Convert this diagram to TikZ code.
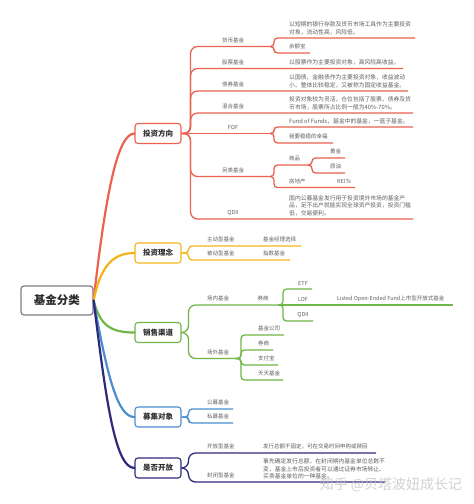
\documentclass[tikz,border=0pt]{standalone}
\usepackage{fontspec}
\setmainfont{Noto Sans CJK SC}
\definecolor{cred}{RGB}{234,98,80}
\definecolor{corange}{RGB}{244,180,24}
\definecolor{cgreen}{RGB}{112,182,72}
\definecolor{cblue}{RGB}{74,142,206}
\definecolor{cnavy}{RGB}{46,42,122}
\definecolor{cgray}{RGB}{125,125,135}
\definecolor{ctext}{RGB}{95,95,95}
\definecolor{cdark}{RGB}{45,45,45}
\tikzset{
  rootbox/.style={draw=cgray, line width=1.2pt, rounded corners=3pt, fill=white, minimum width=72pt, minimum height=29pt, inner sep=0pt, font=\fontsize{11.5}{12}\selectfont\bfseries, text=cdark},
  mainbox/.style={draw=#1, line width=1.1pt, rounded corners=3pt, fill=white, minimum width=46pt, minimum height=20pt, inner sep=0pt, font=\fontsize{7.5}{8}\selectfont\bfseries, text=cdark},
  lab/.style={font=\fontsize{5.5}{6}\selectfont, text=ctext, inner sep=0pt, anchor=south},
  labw/.style={font=\fontsize{5.5}{6}\selectfont, text=ctext, inner sep=0pt, anchor=south west},
  det/.style={font=\fontsize{5.8}{7.8}\selectfont, text=ctext, inner sep=0pt, anchor=south west, align=left},
  trunk/.style={line width=2.2pt, line cap=round},
  lnk/.style={draw=#1, line width=1.3pt, rounded corners=7pt},
  lnks/.style={draw=#1, line width=1.3pt, rounded corners=3.5pt},
  ul/.style={draw=#1, line width=1.3pt},
}
\begin{document}
\begin{tikzpicture}[x=1pt,y=-1pt]
\useasboundingbox (0,0) rectangle (474,504);
\fill[white] (0,0) rectangle (474,504);

% ---------- level 1 ----------
\node[rootbox] (root) at (57,300.5) {基金分类};
\node[mainbox=cred] (tz) at (158,133.5) {投资方向};
\node[mainbox=corange] (lz) at (158,253) {投资理念};
\node[mainbox=cgreen] (xs) at (158,332.5) {销售渠道};
\node[mainbox=cblue] (mj) at (158,417) {募集对象};
\node[mainbox=cnavy] (sf) at (158,468) {是否开放};

\draw[trunk,cred] (root.east) .. controls (106,190) and (118,133.5) .. (tz.west);
\draw[trunk,corange] (root.east) .. controls (100,270) and (110,253) .. (lz.west);
\draw[trunk,cgreen] (root.east) .. controls (100,325) and (110,332.5) .. (xs.west);
\draw[trunk,cblue] (root.east) .. controls (108,380) and (118,417) .. (mj.west);
\draw[trunk,cnavy] (root.east) .. controls (106,400) and (115,468) .. (sf.west);

% ---------- 投资方向 ----------
\coordinate (hb) at (270,46.5);
\coordinate (hb1) at (415,38);
\coordinate (hb2) at (310,53);
\draw[lnk=cred] (tz.east) -- ++(9,0) |- (hb);
\draw[lnks=cred] (hb) -- ++(4,0) |- (hb1);
\draw[lnks=cred] (hb) -- ++(4,0) |- (hb2);
\node[lab] (hbl) at (233,43) {货币基金};
\node[det] (hb1t) at (289,35) {以短期的银行存款及货币市场工具作为主要投资\\对象，流动性高，风险低。};
\node[labw] (hb2t) at (289,49.5) {余额宝};

\coordinate (gp) at (403,68.5);
\draw[lnk=cred] (tz.east) -- ++(9,0) |- (gp);
\node[lab] (gpl) at (233,65) {股票基金};
\node[det] (gpt) at (289,65.5) {以股票作为主要投资对象，高风险高收益。};

\coordinate (zq) at (408,91);
\draw[lnk=cred] (tz.east) -- ++(9,0) |- (zq);
\node[lab] (zql) at (233,87.5) {债券基金};
\node[det] (zqt) at (289,88) {以国债、金融债作为主要投资对象，收益波动\\小、整体比较稳定，又被称为固定收益基金。};

\coordinate (hh) at (413,113);
\draw[lnk=cred] (tz.east) -- ++(9,0) |- (hh);
\node[lab] (hhl) at (233,109.5) {混合基金};
\node[det] (hht) at (289,110) {投资对象较为灵活，仓位包括了股票、债券及货\\币市场，股票所占比例一般为40\%-70\%。};

\coordinate (fof) at (270,133.5);
\coordinate (fof1) at (413,127);
\coordinate (fof2) at (333,143);
\draw[ul=cred] (tz.east) -- (fof);
\draw[lnks=cred] (fof) -- ++(4,0) |- (fof1);
\draw[lnks=cred] (fof) -- ++(4,0) |- (fof2);
\node[lab] (fofl) at (233,130) {FOF};
\node[det] (fof1t) at (289,124) {Fund of Funds，基金中的基金，一篮子基金。};
\node[labw] (fof2t) at (289,139.5) {我要稳稳的幸福};

\coordinate (lx) at (270,176.5);
\coordinate (sp) at (308,165);
\coordinate (fdc) at (355,187.5);
\coordinate (hj) at (345,158);
\coordinate (yy) at (345,173);
\draw[lnk=cred] (tz.east) -- ++(9,0) |- (lx);
\draw[lnks=cred] (lx) -- ++(4,0) |- (sp);
\draw[lnks=cred] (lx) -- ++(4,0) |- (fdc);
\draw[lnks=cred] (sp) -- ++(4,0) |- (hj);
\draw[lnks=cred] (sp) -- ++(4,0) |- (yy);
\node[lab] (lxl) at (233,173) {另类基金};
\node[labw] (spl) at (289,161.5) {商品};
\node[labw] (hjl) at (330,154.5) {黄金};
\node[labw] (yyl) at (330,169.5) {原油};
\node[labw] (fdcl) at (289,184) {房地产};
\node[labw] (reits) at (337,184) {REITs};

\coordinate (qd) at (413,219);
\draw[lnk=cred] (tz.east) -- ++(9,0) |- (qd);
\node[lab] (qdl) at (233,215.5) {QDII};
\node[det] (qdt) at (289,216.5) {国内公募基金发行用于投资境外市场的基金产\\品，足不出户就能实现全球资产投资，投资门槛\\低，交易便利。};

% ---------- 投资理念 ----------
\coordinate (zd) at (301,246);
\coordinate (bd) at (290,260);
\draw[lnks=corange] (lz.east) -- ++(7,0) |- (zd);
\draw[lnks=corange] (lz.east) -- ++(7,0) |- (bd);
\node[labw] (zdl) at (207,242.5) {主动型基金};
\node[labw] (zdt) at (263,242.5) {基金经理选择};
\node[labw] (bdl) at (207,256.5) {被动型基金};
\node[labw] (bdt) at (263,256.5) {指数基金};

% ---------- 销售渠道 ----------
\coordinate (cn) at (278,305);
\coordinate (etf) at (312,289);
\coordinate (lof) at (453,305);
\coordinate (qd2) at (313,321);
\draw[lnk=cgreen] (xs.east) -- ++(7,0) |- (cn);
\draw[lnks=cgreen] (cn) -- ++(5,0) |- (etf);
\draw[ul=cgreen] (cn) -- (lof);
\draw[lnks=cgreen] (cn) -- ++(5,0) |- (qd2);
\node[labw] (cnl) at (207,301.5) {场内基金};
\node[lab] (qsl) at (263,301.5) {券商};
\node[lab] (etfl) at (303,285.5) {ETF};
\node[lab] (lofl) at (303,301.5) {LOF};
\node[labw] (loft) at (337,301.5) {Listed Open-Ended Fund上市型开放式基金};
\node[lab] (qd2l) at (303,317.5) {QDII};

\coordinate (cw) at (235,358.5);
\coordinate (jjgs) at (284,335);
\coordinate (qs2) at (273,350);
\coordinate (zfb) at (278,365);
\coordinate (ttjj) at (283,380);
\draw[lnk=cgreen] (xs.east) -- ++(7,0) |- (cw);
\draw[lnks=cgreen] (cw) -- ++(6,0) |- (jjgs);
\draw[lnks=cgreen] (cw) -- ++(6,0) |- (qs2);
\draw[lnks=cgreen] (cw) -- ++(6,0) |- (zfb);
\draw[lnks=cgreen] (cw) -- ++(6,0) |- (ttjj);
\node[labw] (cwl) at (207,355) {场外基金};
\node[labw] (jjgsl) at (258,331.5) {基金公司};
\node[labw] (qs2l) at (258,346.5) {券商};
\node[labw] (zfbl) at (258,361.5) {支付宝};
\node[labw] (ttjjl) at (258,376.5) {天天基金};

% ---------- 募集对象 ----------
\coordinate (gm) at (233,409);
\coordinate (sm) at (233,423);
\draw[lnks=cblue] (mj.east) -- ++(7,0) |- (gm);
\draw[lnks=cblue] (mj.east) -- ++(7,0) |- (sm);
\node[labw] (gml) at (207,405.5) {公募基金};
\node[labw] (sml) at (207,419.5) {私募基金};

% ---------- 是否开放 ----------
\coordinate (kf) at (376,453);
\coordinate (fb) at (385,482);
\draw[lnk=cnavy] (sf.east) -- ++(7,0) |- (kf);
\draw[lnk=cnavy] (sf.east) -- ++(7,0) |- (fb);
\node[labw] (kfl) at (207,449.5) {开放型基金};
\node[labw] (kft) at (263,449.5) {发行总额不固定，可在交易时间申购或赎回};
\node[labw] (fbl) at (207,478.5) {封闭型基金};
\node[det] (fbt) at (263,479.5) {事先确定发行总额，在封闭期内基金单位总数不\\变，基金上市后投资者可以通过证券市场转让、\\买卖基金单位的一种基金。};

% watermark
\node[font=\fontsize{14}{14}\selectfont, text=gray!45, opacity=0.8, inner sep=0pt] (wm) at (391,485) {知乎 @贝塔波妞成长记};
\end{tikzpicture}
\end{document}
